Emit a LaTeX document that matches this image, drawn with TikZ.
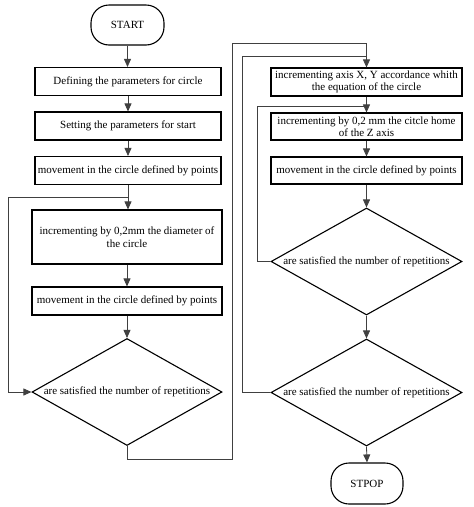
\documentclass[tikz,border=0pt]{standalone}
\usepackage{fontspec}
\setmainfont{Liberation Serif}
\usetikzlibrary{shapes.geometric,arrows.meta}
\begin{document}
\begin{tikzpicture}[x=1pt,y=-1pt,
  font=\fontsize{11}{12.5}\selectfont,
  boxnode/.style={draw=black,line width=1.1pt,minimum height=28pt,inner sep=0pt,align=center},
  termnode/.style={draw=black,line width=1.1pt,rounded corners=18pt,minimum width=73pt,minimum height=40pt,inner sep=0pt},
  decnode/.style={draw=black,line width=1.1pt,diamond,minimum width=190pt,minimum height=107pt,inner sep=0pt},
  conn/.style={draw=black!75,line width=0.8pt},
  arr/.style={conn,-{Triangle[length=8pt,width=7pt]}}]
\useasboundingbox (0,0) rectangle (474,507);
% left column
\node[termnode] (start) at (127.5,25) {START};
\node[boxnode,minimum width=186pt] (b1) at (128,81.5) {Defining the parameters for circle};
\node[boxnode,minimum width=186pt] (b2) at (128,126) {Setting the parameters for start};
\node[boxnode,minimum width=186pt] (b3) at (128,170.5) {movement in the circle defined by points};
\node[boxnode,minimum width=190pt,minimum height=54pt] (b4) at (127,237) {incrementing by 0,2mm the diameter of\\the circle};
\node[boxnode,minimum width=190pt] (b5) at (127,301) {movement in the circle defined by points};
\node[decnode] (d1) at (127,392) {};
\node (t1) at (d1.center) {are satisfied the number of repetitions};
% right column
\node[boxnode,minimum width=191pt] (r1) at (366.5,82) {incrementing axis X, Y accordance whith\\the equation of the circle};
\node[boxnode,minimum width=191pt,minimum height=27pt] (r2) at (366.5,126.5) {incrementing by 0,2 mm the citcle home\\of the Z axis};
\node[boxnode,minimum width=191pt,minimum height=27pt] (r3) at (366.5,170.5) {movement in the circle defined by points};
\node[decnode,minimum width=191pt] (d3) at (366.5,261.5) {};
\node (t3) at (d3.center) {are satisfied the number of repetitions};
\node[decnode,minimum width=191pt] (d4) at (366.5,392.5) {};
\node (t4) at (d4.center) {are satisfied the number of repetitions};
\node[termnode,minimum width=72pt,minimum height=41pt] (stop) at (367,483.5) {STPOP};
% coordinates
\coordinate (j1) at (128,197);
\coordinate (l0) at (8,197);
\coordinate (la) at (232,459);
\coordinate (lb) at (232,43);
\coordinate (m2) at (242,56);
\coordinate (j2) at (366.5,56);
\coordinate (m3) at (257,106);
\coordinate (j3) at (366.5,106);
% straight connectors
\draw[arr] (start.south) -- (start.south |- b1.north);
\draw[arr] (b1.south) -- (b2.north);
\draw[arr] (b2.south) -- (b3.north);
\draw[arr] (b3.south) -- (b3.south |- b4.north);
\draw[arr] (b4.south) -- (b5.north);
\draw[arr] (b5.south) -- (d1.north);
\draw[arr] (r1.south) -- (r2.north);
\draw[arr] (r2.south) -- (r3.north);
\draw[arr] (r3.south) -- (d3.north);
\draw[arr] (d3.south) -- (d4.north);
\draw[arr] (d4.south) -- (stop.north);
% loops
\draw[arr] (j1) -- (l0) |- (d1.west);
\draw[arr] (d1.south) |- (la) -- (lb) -| (r1.north);
\draw[conn] (d4.west) -| (m2) -- (j2);
\draw[conn] (d3.west) -| (m3) -- (j3);
\end{tikzpicture}
\end{document}
